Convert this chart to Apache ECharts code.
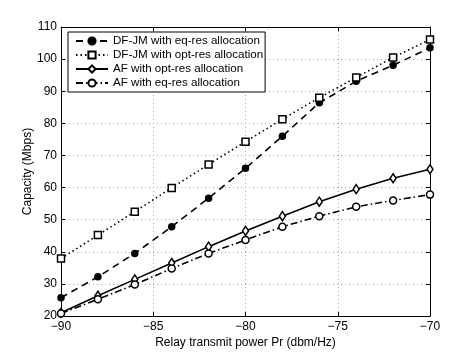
<!DOCTYPE html>
<html><head><meta charset="utf-8">
<script src="https://cdn.jsdelivr.net/npm/echarts@6/dist/echarts.min.js"></script>
<style>html,body{margin:0;padding:0;background:#fff}#c{width:474px;height:356px}</style>
</head><body><div id="c"></div>
<script>
const xValues = [-90, -88, -86, -84, -82, -80, -78, -76, -74, -72, -70];
const dfEqRes = [25.7, 32.2, 39.5, 47.8, 56.7, 66.0, 76.0, 86.4, 93.1, 98.1, 103.5];
const dfOptRes = [37.9, 45.2, 52.5, 59.9, 67.2, 74.3, 81.3, 88.0, 94.3, 100.5, 106.1];
const afOptRes = [21.0, 26.3, 31.4, 36.5, 41.6, 46.5, 51.1, 55.6, 59.5, 62.9, 65.7];
const afEqRes = [20.8, 25.2, 29.8, 34.8, 39.5, 43.7, 47.8, 51.1, 54.0, 56.0, 57.8];
const seriesNames = ['DF-JM with eq-res allocation', 'DF-JM with opt-res allocation', 'AF with opt-res allocation', 'AF with eq-res allocation'];

const pairs = arr => xValues.map((x, i) => [x, arr[i]]);
const font = 'Liberation Sans, Arial, sans-serif';
const chart = echarts.init(document.getElementById('c'), null, {renderer: 'canvas'});
const gridLine = {show: true, lineStyle: {color: '#aaa', type: [1, 3], width: 1}};
const mk = (name, data, symbol, fill, dash, size) => ({
  name, type: 'line', data: pairs(data), symbol, symbolSize: size,
  showAllSymbol: true,
  itemStyle: {color: fill, borderColor: '#000', borderWidth: 1.5},
  lineStyle: {color: '#000', width: 1.6, type: dash},
  emphasis: {disabled: true}, animation: false
});
chart.setOption({
  backgroundColor: '#fff',
  animation: false,
  textStyle: {fontFamily: font},
  grid: {left: 61, right: 44, top: 27, bottom: 40, show: false},
  legend: {
    orient: 'vertical', left: 68, top: 32,
    backgroundColor: '#fff', borderColor: '#000', borderWidth: 1,
    padding: [3, 2, 3, 7], itemGap: 2, itemWidth: 32, itemHeight: 9,
    textStyle: {fontFamily: font, fontSize: 11.6, color: '#000'},
    data: seriesNames
  },
  xAxis: [{
    type: 'value', min: -90, max: -70, interval: 5,
    name: 'Relay transmit power Pr (dbm/Hz)', nameLocation: 'middle', nameGap: 21,
    nameMoveOverlap: false,
    nameTextStyle: {fontSize: 12, color: '#000', fontFamily: font},
    axisLine: {onZero: false, lineStyle: {color: '#000', width: 1}},
    axisTick: {inside: true, length: 4, lineStyle: {color: '#000'}},
    axisLabel: {color: '#000', fontSize: 12, margin: 5, fontFamily: font, formatter: v => String(v).replace('-', '\u2212')},
    splitLine: gridLine
  }, {
    type: 'value', position: 'top', min: -90, max: -70, interval: 5,
    axisLine: {onZero: false, lineStyle: {color: '#000', width: 1}},
    axisTick: {inside: true, length: 4, lineStyle: {color: '#000'}},
    axisLabel: {show: false}, splitLine: {show: false}
  }],
  yAxis: [{
    type: 'value', min: 20, max: 110, interval: 10,
    name: 'Capacity (Mbps)', nameLocation: 'middle', nameGap: 27, nameRotate: 90,
    nameMoveOverlap: false,
    nameTextStyle: {fontSize: 12, color: '#000', fontFamily: font},
    axisLine: {onZero: false, show: true, lineStyle: {color: '#000', width: 1}},
    axisTick: {show: true, inside: true, length: 4, lineStyle: {color: '#000'}},
    axisLabel: {color: '#000', fontSize: 12, margin: 4, fontFamily: font},
    splitLine: gridLine
  }, {
    type: 'value', position: 'right', min: 20, max: 110, interval: 10,
    axisLine: {onZero: false, show: true, lineStyle: {color: '#000', width: 1}},
    axisTick: {show: true, inside: true, length: 4, lineStyle: {color: '#000'}},
    axisLabel: {show: false}, splitLine: {show: false}
  }],
  series: [
    mk(seriesNames[0], dfEqRes, 'circle', '#000', [7, 5], 6),
    mk(seriesNames[1], dfOptRes, 'rect', '#fff', [1.5, 3], 7),
    mk(seriesNames[2], afOptRes, 'diamond', '#fff', 'solid', [6, 9]),
    mk(seriesNames[3], afEqRes, 'circle', '#fff', [7, 3, 1.5, 3], 7)
  ]
});
</script></body></html>
